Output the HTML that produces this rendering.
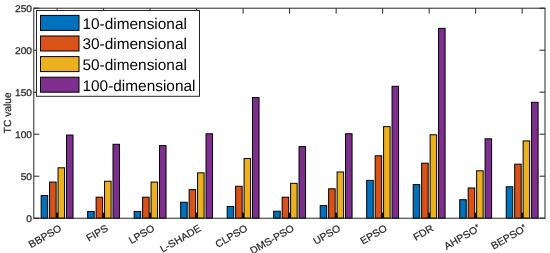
<!DOCTYPE html>
<html><head><meta charset="utf-8"><title>TC value</title>
<style>
html,body{margin:0;padding:0;background:#fff;}
body{width:550px;height:253px;overflow:hidden;}
svg{display:block;text-rendering:geometricPrecision;font-family:"Liberation Sans",Arial,Helvetica,sans-serif;}
</style></head><body>
<svg width="550" height="253" viewBox="0 0 550 253">
<rect x="0" y="0" width="550" height="253" fill="#fff"/>
<g stroke="#000" stroke-width="1">
<rect x="41.15" y="195.52" width="6.52" height="22.68" fill="#0072BD"/>
<rect x="49.60" y="182.08" width="6.52" height="36.12" fill="#D95319"/>
<rect x="58.05" y="167.80" width="6.52" height="50.40" fill="#EDB120"/>
<rect x="66.50" y="135.04" width="6.52" height="83.16" fill="#7E2F8E"/>
<rect x="87.66" y="211.48" width="6.52" height="6.72" fill="#0072BD"/>
<rect x="96.11" y="197.20" width="6.52" height="21.00" fill="#D95319"/>
<rect x="104.56" y="181.24" width="6.52" height="36.96" fill="#EDB120"/>
<rect x="113.01" y="144.28" width="6.52" height="73.92" fill="#7E2F8E"/>
<rect x="134.17" y="211.48" width="6.52" height="6.72" fill="#0072BD"/>
<rect x="142.62" y="197.20" width="6.52" height="21.00" fill="#D95319"/>
<rect x="151.07" y="182.08" width="6.52" height="36.12" fill="#EDB120"/>
<rect x="159.51" y="145.62" width="6.52" height="72.58" fill="#7E2F8E"/>
<rect x="180.67" y="202.24" width="6.52" height="15.96" fill="#0072BD"/>
<rect x="189.12" y="189.64" width="6.52" height="28.56" fill="#D95319"/>
<rect x="197.57" y="172.84" width="6.52" height="45.36" fill="#EDB120"/>
<rect x="206.02" y="133.78" width="6.52" height="84.42" fill="#7E2F8E"/>
<rect x="227.18" y="206.44" width="6.52" height="11.76" fill="#0072BD"/>
<rect x="235.63" y="186.28" width="6.52" height="31.92" fill="#D95319"/>
<rect x="244.08" y="158.56" width="6.52" height="59.64" fill="#EDB120"/>
<rect x="252.53" y="97.58" width="6.52" height="120.62" fill="#7E2F8E"/>
<rect x="273.69" y="211.23" width="6.52" height="6.97" fill="#0072BD"/>
<rect x="282.14" y="197.20" width="6.52" height="21.00" fill="#D95319"/>
<rect x="290.59" y="183.34" width="6.52" height="34.86" fill="#EDB120"/>
<rect x="299.04" y="146.63" width="6.52" height="71.57" fill="#7E2F8E"/>
<rect x="320.20" y="205.60" width="6.52" height="12.60" fill="#0072BD"/>
<rect x="328.65" y="188.80" width="6.52" height="29.40" fill="#D95319"/>
<rect x="337.10" y="172.00" width="6.52" height="46.20" fill="#EDB120"/>
<rect x="345.55" y="133.78" width="6.52" height="84.42" fill="#7E2F8E"/>
<rect x="366.70" y="180.40" width="6.52" height="37.80" fill="#0072BD"/>
<rect x="375.15" y="155.79" width="6.52" height="62.41" fill="#D95319"/>
<rect x="383.60" y="126.64" width="6.52" height="91.56" fill="#EDB120"/>
<rect x="392.05" y="86.32" width="6.52" height="131.88" fill="#7E2F8E"/>
<rect x="413.21" y="184.60" width="6.52" height="33.60" fill="#0072BD"/>
<rect x="421.66" y="163.18" width="6.52" height="55.02" fill="#D95319"/>
<rect x="430.11" y="134.79" width="6.52" height="83.41" fill="#EDB120"/>
<rect x="438.56" y="28.36" width="6.52" height="189.84" fill="#7E2F8E"/>
<rect x="459.72" y="199.72" width="6.52" height="18.48" fill="#0072BD"/>
<rect x="468.17" y="187.96" width="6.52" height="30.24" fill="#D95319"/>
<rect x="476.62" y="170.82" width="6.52" height="47.38" fill="#EDB120"/>
<rect x="485.07" y="138.82" width="6.52" height="79.38" fill="#7E2F8E"/>
<rect x="506.23" y="186.78" width="6.52" height="31.42" fill="#0072BD"/>
<rect x="514.68" y="164.19" width="6.52" height="54.01" fill="#D95319"/>
<rect x="523.13" y="140.92" width="6.52" height="77.28" fill="#EDB120"/>
<rect x="531.58" y="102.28" width="6.52" height="115.92" fill="#7E2F8E"/>
</g>
<g stroke="#262626" stroke-width="1" fill="none">
<rect x="33.8" y="8.2" width="511.2" height="210.0"/>
<path d="M57.09 8.2V13.7"/>
<path d="M57.09 218.2V212.7" stroke="#000" stroke-width="2"/>
<path d="M103.59 8.2V13.7"/>
<path d="M103.59 218.2V212.7" stroke="#000" stroke-width="2"/>
<path d="M150.10 8.2V13.7"/>
<path d="M150.10 218.2V212.7" stroke="#000" stroke-width="2"/>
<path d="M196.61 8.2V13.7"/>
<path d="M196.61 218.2V212.7" stroke="#000" stroke-width="2"/>
<path d="M243.12 8.2V13.7"/>
<path d="M243.12 218.2V212.7" stroke="#000" stroke-width="2"/>
<path d="M289.62 8.2V13.7"/>
<path d="M289.62 218.2V212.7" stroke="#000" stroke-width="2"/>
<path d="M336.13 8.2V13.7"/>
<path d="M336.13 218.2V212.7" stroke="#000" stroke-width="2"/>
<path d="M382.64 8.2V13.7"/>
<path d="M382.64 218.2V212.7" stroke="#000" stroke-width="2"/>
<path d="M429.15 8.2V13.7"/>
<path d="M429.15 218.2V212.7" stroke="#000" stroke-width="2"/>
<path d="M475.66 8.2V13.7"/>
<path d="M475.66 218.2V212.7" stroke="#000" stroke-width="2"/>
<path d="M522.16 8.2V13.7"/>
<path d="M522.16 218.2V212.7" stroke="#000" stroke-width="2"/>
<path d="M33.8 218.20H39.3M545.0 218.20H539.5"/>
<path d="M33.8 176.20H39.3M545.0 176.20H539.5"/>
<path d="M33.8 134.20H39.3M545.0 134.20H539.5"/>
<path d="M33.8 92.20H39.3M545.0 92.20H539.5"/>
<path d="M33.8 50.20H39.3M545.0 50.20H539.5"/>
<path d="M33.8 8.20H39.3M545.0 8.20H539.5"/>
</g>
<g fill="#262626" stroke="#262626" stroke-width="0.25" font-size="9.7px" text-anchor="end">
<text transform="translate(32.0,221.90) scale(1.05,1)">0</text>
<text transform="translate(32.0,179.90) scale(1.05,1)">50</text>
<text transform="translate(32.0,137.90) scale(1.05,1)">100</text>
<text transform="translate(32.0,95.90) scale(1.05,1)">150</text>
<text transform="translate(32.0,53.90) scale(1.05,1)">200</text>
<text transform="translate(32.0,11.90) scale(1.05,1)">250</text>
</g>
<text transform="translate(10.6,112.8) rotate(-90)" fill="#262626" stroke="#262626" stroke-width="0.2" font-size="10.3px" text-anchor="middle">TC value</text>
<g fill="#262626" stroke="#262626" stroke-width="0.2" font-size="10px" text-anchor="end">
<text transform="translate(62.29,230.2) rotate(-30) scale(1.045,1)">BBPSO</text>
<text transform="translate(108.79,230.2) rotate(-30) scale(1.045,1)">FIPS</text>
<text transform="translate(155.30,230.2) rotate(-30) scale(1.045,1)">LPSO</text>
<text transform="translate(201.81,230.2) rotate(-30) scale(1.045,1)">L-SHADE</text>
<text transform="translate(248.32,230.2) rotate(-30) scale(1.045,1)">CLPSO</text>
<text transform="translate(294.82,230.2) rotate(-30) scale(1.045,1)">DMS-PSO</text>
<text transform="translate(341.33,230.2) rotate(-30) scale(1.045,1)">UPSO</text>
<text transform="translate(387.84,230.2) rotate(-30) scale(1.045,1)">EPSO</text>
<text transform="translate(434.35,230.2) rotate(-30) scale(1.045,1)">FDR</text>
<text transform="translate(480.86,230.2) rotate(-30) scale(1.045,1)">AHPSO<tspan font-size="7.5px" dy="-2.2">*</tspan></text>
<text transform="translate(527.36,230.2) rotate(-30) scale(1.045,1)">BEPSO<tspan font-size="7.5px" dy="-2.2">*</tspan></text>
</g>
<rect x="36.5" y="10.5" width="163" height="85.8" fill="#fff" stroke="#262626" stroke-width="1"/>
<rect x="40.5" y="15.40" width="38.5" height="15" fill="#0072BD" stroke="#000" stroke-width="1"/>
<text x="82.5" y="28.80" font-size="15.4px" fill="#000">10-dimensional</text>
<rect x="40.5" y="36.00" width="38.5" height="15" fill="#D95319" stroke="#000" stroke-width="1"/>
<text x="82.5" y="49.40" font-size="15.4px" fill="#000">30-dimensional</text>
<rect x="40.5" y="56.60" width="38.5" height="15" fill="#EDB120" stroke="#000" stroke-width="1"/>
<text x="82.5" y="70.00" font-size="15.4px" fill="#000">50-dimensional</text>
<rect x="40.5" y="77.20" width="38.5" height="15" fill="#7E2F8E" stroke="#000" stroke-width="1"/>
<text x="82.5" y="90.60" font-size="15.4px" fill="#000">100-dimensional</text>
</svg>
</body></html>
